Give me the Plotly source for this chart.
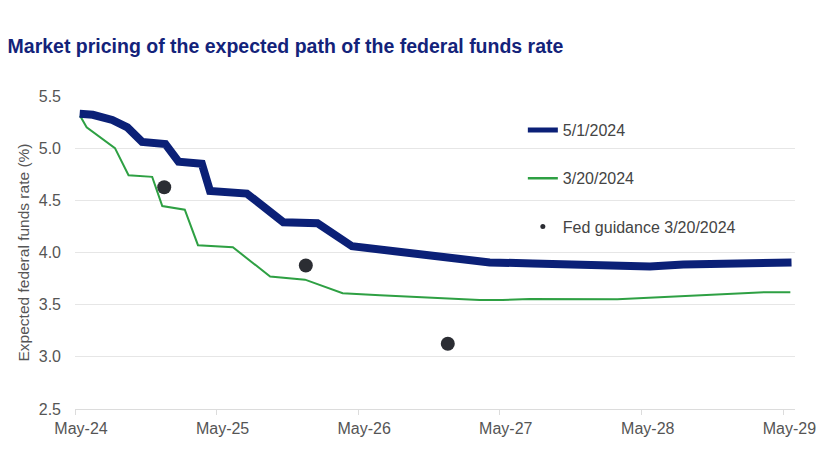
import plotly.graph_objects as go

# ---- data ----
may1_dates = ["2024-05-13", "2024-06-16", "2024-08-05", "2024-09-13", "2024-10-21", "2024-12-20",
              "2025-01-23", "2025-03-24", "2025-04-14", "2025-07-18", "2025-10-20", "2026-01-16",
              "2026-04-15", "2026-07-22", "2026-11-03", "2027-02-22", "2027-04-05", "2027-07-25",
              "2027-10-21", "2028-01-15", "2028-04-09", "2028-05-22", "2028-08-16", "2028-12-22",
              "2029-05-22"]
may1_values = [5.33, 5.32, 5.27, 5.20, 5.06, 5.04,
               4.87, 4.85, 4.59, 4.565, 4.29, 4.28,
               4.06, 4.02, 3.975, 3.94, 3.905, 3.895,
               3.885, 3.87, 3.865, 3.865, 3.885, 3.90,
               3.905]

mar20_dates = ["2024-05-14", "2024-05-31", "2024-08-12", "2024-09-16", "2024-11-16", "2024-12-12",
               "2025-02-08", "2025-03-14", "2025-06-12", "2025-09-16", "2025-12-15", "2026-03-22",
               "2026-06-26", "2026-11-03", "2027-03-10", "2027-05-08", "2027-07-17", "2028-02-28",
               "2028-07-04", "2028-11-12", "2029-03-19", "2029-05-19"]
mar20_values = [5.31, 5.20, 5.00, 4.74, 4.725, 4.445,
                4.41, 4.07, 4.05, 3.77, 3.74, 3.61,
                3.59, 3.57, 3.545, 3.545, 3.555, 3.553,
                3.575, 3.60, 3.62, 3.62]

guide_dates = ["2024-12-17", "2025-12-17", "2026-12-18"]
guide_values = [4.625, 3.875, 3.125]

x_tick_vals = ["2024-05-01", "2025-05-01", "2026-05-01", "2027-05-01", "2028-05-01", "2029-05-01"]
x_tick_text = ["May-24", "May-25", "May-26", "May-27", "May-28", "May-29"]
y_tick_vals = [2.5, 3.0, 3.5, 4.0, 4.5, 5.0, 5.5]

names = ["5/1/2024", "3/20/2024", "Fed guidance 3/20/2024"]

BLUE = "#0b2077"
GREEN = "#2ea043"
DOT = "#2b2d33"
FONT = "Liberation Sans"

fig = go.Figure()
# plotted marks
fig.add_trace(go.Scatter(x=mar20_dates, y=mar20_values, mode="lines",
                         line=dict(color=GREEN, width=2), showlegend=False))
fig.add_trace(go.Scatter(x=may1_dates, y=may1_values, mode="lines",
                         line=dict(color=BLUE, width=8), showlegend=False))
fig.add_trace(go.Scatter(x=guide_dates, y=guide_values, mode="markers",
                         marker=dict(color=DOT, size=14), showlegend=False))
# legend entries
fig.add_trace(go.Scatter(x=[None], y=[None], mode="lines", name=names[0],
                         line=dict(color=BLUE, width=5), legendgroup="a"))
fig.add_trace(go.Scatter(x=[None], y=[None], mode="lines", name=names[1],
                         line=dict(color=GREEN, width=2.5), legendgroup="b"))
fig.add_trace(go.Scatter(x=[None], y=[None], mode="markers", name=names[2],
                         marker=dict(color=DOT, size=5), legendgroup="c"))

fig.update_layout(
    width=840, height=472,
    margin=dict(l=75, r=45, t=96, b=63),
    paper_bgcolor="white", plot_bgcolor="white",
    font=dict(family=FONT, color="#555555", size=16),
    title=dict(text="<b>Market pricing of the expected path of the federal funds rate</b>",
               font=dict(family=FONT, size=19.5, color="#13237a"),
               x=0.009, xanchor="left", xref="container",
               y=1 - 46 / 472, yanchor="middle", yref="container"),
    legend=dict(x=0.622, xanchor="left", y=1 - (113 - 96) / 313, yanchor="top",
                bgcolor="rgba(0,0,0,0)", tracegroupgap=24.5,
                font=dict(family=FONT, size=16, color="#444444"),
                traceorder="grouped"),
    xaxis=dict(type="date", range=["2024-05-01", "2029-05-31"],
               tickvals=x_tick_vals, ticktext=x_tick_text,
               showgrid=False, showline=True, linecolor="#dcdcdc", linewidth=1,
               ticks="outside", ticklen=5, tickcolor="#dcdcdc",
               ticklabelshift=6, tickfont=dict(size=16, color="#555555"),
               zeroline=False, fixedrange=True),
    yaxis=dict(range=[2.5, 5.5], tickvals=y_tick_vals,
               tickformat=".1f", showgrid=True, gridcolor="#e6e6e6", gridwidth=1,
               showline=False, zeroline=False, ticks="",
               ticklabelstandoff=13, tickfont=dict(size=16, color="#555555"),
               title=dict(text="Expected federal funds rate (%)", standoff=5,
                          font=dict(size=15.5, color="#555555"))),
)

fig.write_html("out.html")
